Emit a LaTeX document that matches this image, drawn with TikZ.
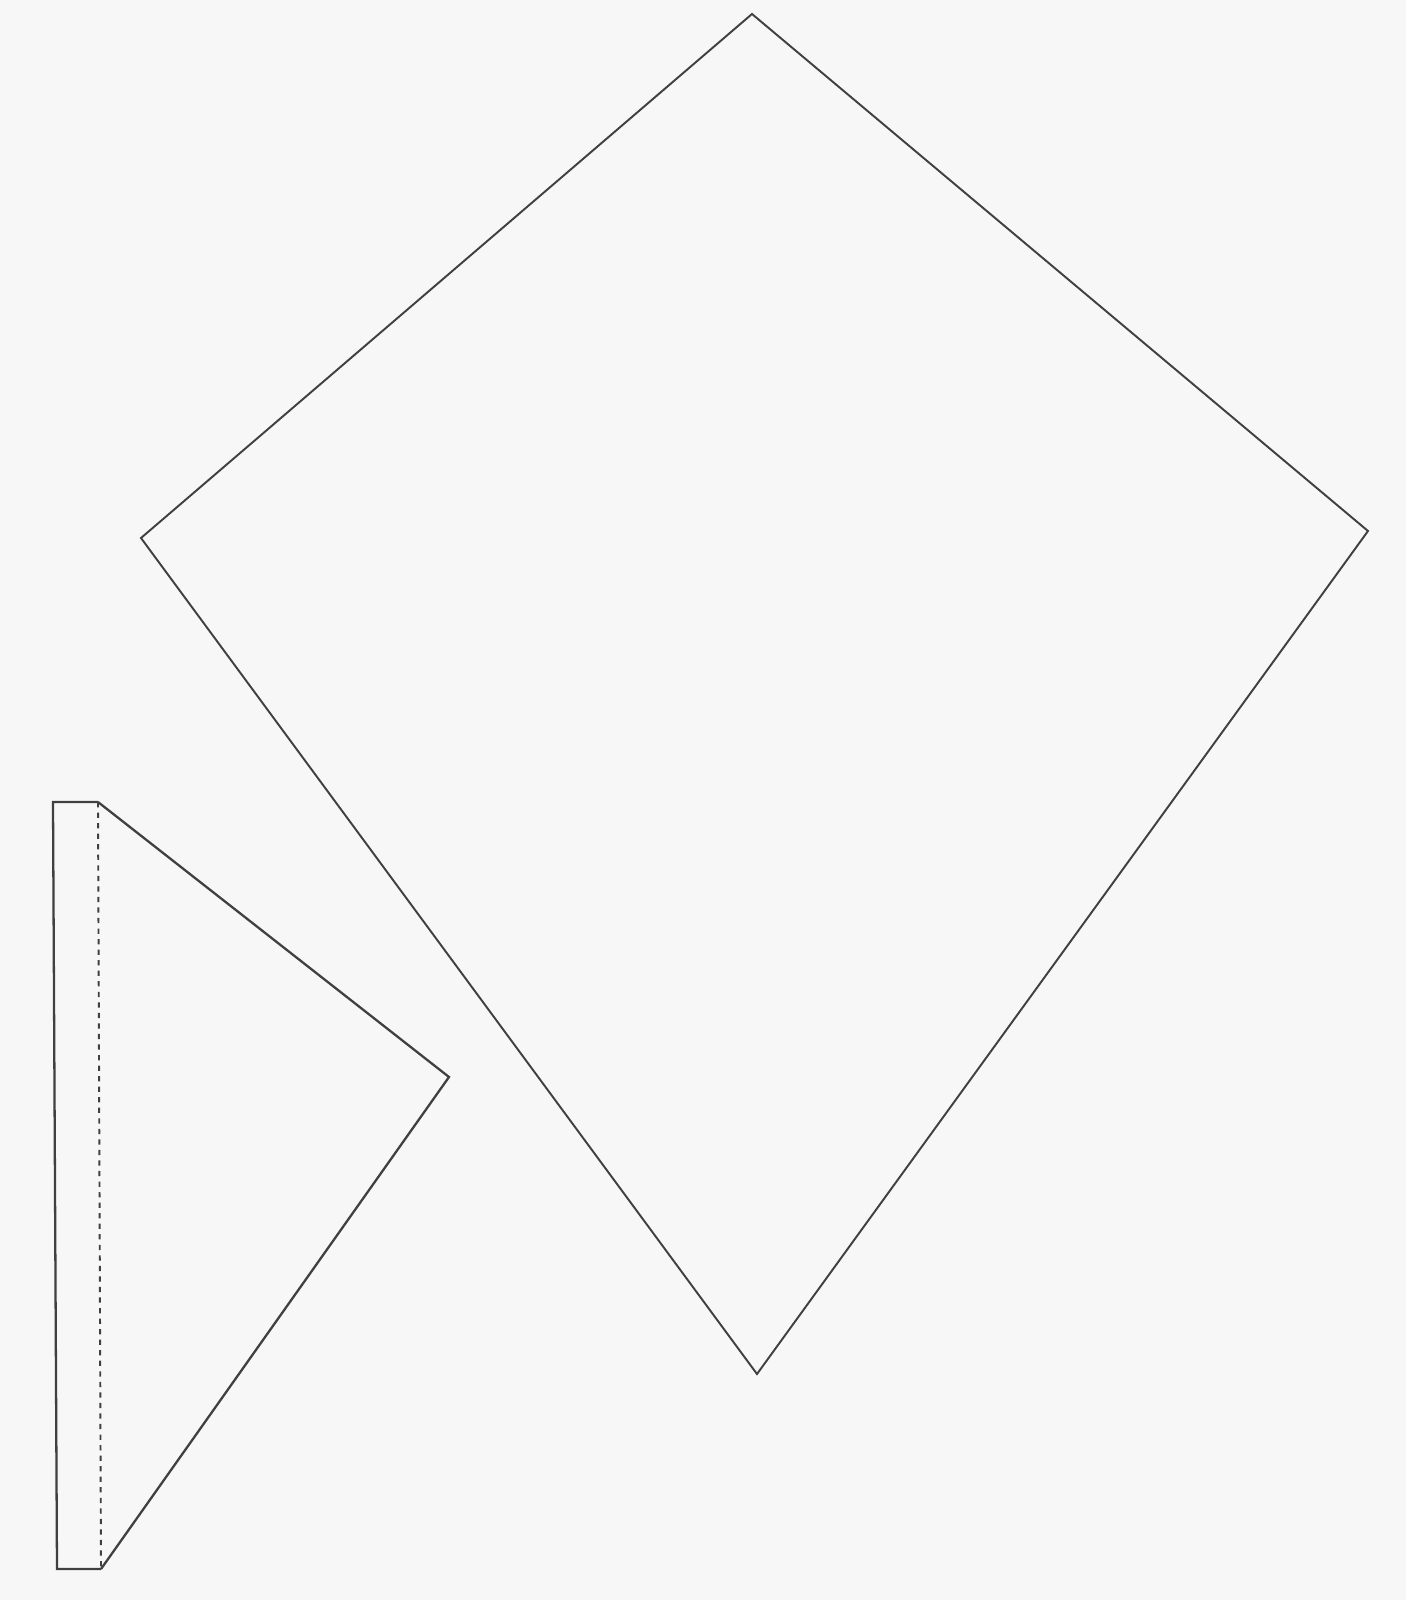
\documentclass[tikz,border=0pt]{standalone}
\usepackage{tikz}

\begin{document}
\begin{tikzpicture}[x=0.02cm,y=-0.02cm]
    \useasboundingbox[fill=black!3] (0,0) rectangle (1406,1600);

    % kite
    \coordinate (T) at (752,14);
    \coordinate (L) at (141,538);
    \coordinate (R) at (1368,531);
    \coordinate (B) at (757,1374);

    \draw[black!75,line width=1.1pt,line join=miter] (T) -- (R) -- (B) -- (L) -- cycle;

    % tail piece
    \coordinate (A1) at (53,802);
    \coordinate (A2) at (98,802);
    \coordinate (A3) at (101,1569);
    \coordinate (A4) at (57,1569);
    \coordinate (P) at (449,1077);

    \draw[black!75,line width=1.3pt] (A2) -- (A1) -- (A4) -- (A3);
    \draw[black!75,line width=1.3pt] (A2) -- (P) -- (A3);
    \draw[black!75,line width=1.1pt,dashed] (A2) -- (A3);
  \end{tikzpicture}
\end{document}
